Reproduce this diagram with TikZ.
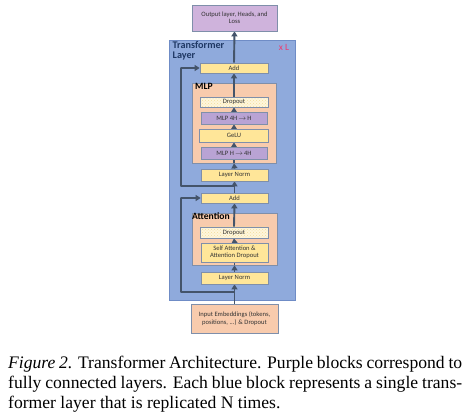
\documentclass[tikz,border=0pt]{standalone}
\usepackage{fontspec}
\setmainfont{Liberation Serif}
\newfontfamily\boxfont{Carlito}
\usetikzlibrary{arrows.meta,patterns}
\pgfdeclarelayer{bg}
\pgfdeclarelayer{mid}
\pgfsetlayers{bg,mid,main}
\definecolor{blueF}{HTML}{8FAADC}
\definecolor{blueD}{HTML}{6F8CC6}
\definecolor{peach}{HTML}{F8CBAD}
\definecolor{yel}{HTML}{FFE699}
\definecolor{cream}{HTML}{FFF6DC}
\definecolor{yeldot}{HTML}{F2DE9A}
\definecolor{pur}{HTML}{B9A3D4}
\definecolor{purL}{HTML}{CFB3DC}
\definecolor{bordc}{HTML}{7F8FAA}
\definecolor{linec}{HTML}{44546A}
\definecolor{navy}{HTML}{1F3864}
\definecolor{xlred}{HTML}{EE3A6E}
\definecolor{txt}{HTML}{333333}
\tikzset{
  box/.style={draw=bordc, line width=0.7pt, inner sep=0pt, align=center, text=txt,
    font=\boxfont\fontsize{6.6}{7.4}\selectfont},
  ybox/.style={box, fill=yel},
  pbox/.style={box, fill=pur},
  dbox/.style={box, preaction={fill=cream}, pattern=crosshatch dots, pattern color=yeldot},
  conn/.style={draw=linec, line width=1.9pt, -{Triangle[length=5pt,width=6pt]}},
  plainline/.style={draw=linec, line width=1.9pt},
  lbl/.style={inner sep=0pt, anchor=north west, font=\boxfont\bfseries\fontsize{10.2}{11}\selectfont, align=left},
  capline/.style={anchor=base west, inner sep=0pt, font=\fontsize{17.6}{20}\selectfont}
}
\begin{document}
\begin{tikzpicture}[x=1pt,y=-1pt]
\useasboundingbox (0,0) rectangle (474,414);
% background boxes
\begin{pgfonlayer}{bg}
\node[draw=blueD, line width=0.8pt, fill=blueF, minimum width=126pt, minimum height=260pt, inner sep=0pt] (blue) at (232,170) {};
\node[box, fill=peach, minimum width=84pt, minimum height=80pt] (mlp) at (234,123) {};
\node[box, fill=peach, minimum width=85pt, minimum height=52pt] (att) at (234.5,239) {};
\end{pgfonlayer}
% labels
\node[lbl, text=navy] (tl) at (172.5,41.5) {Transformer\\[-1.5pt]Layer};
\node[inner sep=0pt, font=\boxfont\fontsize{9.5}{10}\selectfont, text=xlred] (xl) at (284,47.5) {x L};
\node[lbl, text=black, font=\boxfont\bfseries\fontsize{9.6}{10}\selectfont] (mlpl) at (195,83.5) {MLP};
\node[lbl, text=black, font=\boxfont\bfseries\fontsize{9.6}{10}\selectfont] (attl) at (192,212.5) {Attention};
% blocks
\node[box, fill=purL, minimum width=85pt, minimum height=26pt] (out) at (234.5,18) {Output layer, Heads, and\\Loss};
\node[ybox, minimum width=68pt, minimum height=10pt] (add2) at (234,68) {Add};
\node[dbox, minimum width=68pt, minimum height=10pt] (drop2) at (234,102) {Dropout};
\node[pbox, minimum width=66pt, minimum height=12pt] (fc2) at (234,118) {MLP 4H\,$\rightarrow$\,H};
\node[ybox, minimum width=69pt, minimum height=13pt] (gelu) at (234,135.5) {GeLU};
\node[pbox, minimum width=66pt, minimum height=12pt] (fc1) at (234,153) {MLP H\,$\rightarrow$\,4H};
\node[ybox, minimum width=67pt, minimum height=12pt] (ln2) at (234.5,175) {Layer Norm};
\node[ybox, minimum width=67pt, minimum height=10pt] (add1) at (234.5,198) {Add};
\node[dbox, minimum width=68pt, minimum height=11pt] (drop1) at (234,232.5) {Dropout};
\node[ybox, minimum width=67pt, minimum height=19pt] (sa) at (234.5,252.5) {Self Attention \&\\Attention Dropout};
\node[ybox, minimum width=67pt, minimum height=12pt] (ln1) at (234.5,278) {Layer Norm};
\node[box, fill=peach, minimum width=87pt, minimum height=29pt] (inp) at (234.5,318.5) {Input Embeddings (tokens,\\positions, ...) \& Dropout};
% connectors
\coordinate (b1) at (234,292);
\coordinate (b2) at (234,186);
\coordinate (l1) at (181,292);
\coordinate (l2) at (181,186);
\begin{pgfonlayer}{mid}
\draw[conn] (inp.north) -- (ln1.south);
\draw[conn] (ln1.north) -- (att.south);
\draw[plainline] (att.south) -- (sa.south);
\draw[conn] (sa.north) -- (drop1.south);
\draw[conn] (drop1.north) -- (add1.south);
\draw[conn] (add1.north) -- (ln2.south);
\draw[conn] (ln2.north) -- (mlp.south);
\draw[plainline] (mlp.south) -- (fc1.south);
\draw[conn] (fc1.north) -- (gelu.south);
\draw[conn] (gelu.north) -- (fc2.south);
\draw[conn] (fc2.north) -- (drop2.south);
\draw[conn] (drop2.north) -- (add2.south);
\draw[conn] (add2.north) -- (out.south);
\draw[conn, rounded corners=0.5pt] (b1) -- (l1) -- (l1 |- add1.west) -- (add1.west);
\draw[conn, rounded corners=0.5pt] (b2) -- (l2) -- (l2 |- add2.west) -- (add2.west);
\end{pgfonlayer}
% caption
\node[capline] (cap1) at (8,368.5) {\makebox[454pt][s]{\textit{Figure 2.} Transformer Architecture. Purple blocks correspond to}};
\node[capline] (cap2) at (8,388.5) {\makebox[454pt][s]{fully connected layers. Each blue block represents a single trans-}};
\node[capline] (cap3) at (8,408.5) {former layer that is replicated N times.};
\end{tikzpicture}
\end{document}
